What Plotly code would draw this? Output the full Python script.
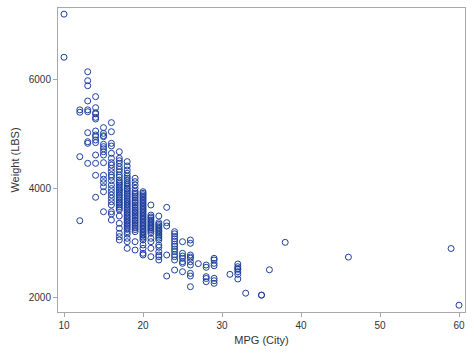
import plotly.graph_objects as go

# Weights (LBS) of vehicles grouped by City MPG
w10 = [7190, 6400]
w12 = [5435, 5390, 4575, 3400]
w13 = [6133, 5969, 5877, 5597, 5435, 5400, 5015, 4850, 4820, 4453]
w14 = [5677, 5474, 5382, 5360, 5297, 5266, 5046, 4973, 4942, 4881, 4833, 4606, 4453, 4233, 3830]
w15 = [5108, 5003, 4960, 4942, 4802, 4759, 4720, 4666, 4606, 4465, 4233, 4160, 4098, 4024, 3932, 3565]
w16 = [5200, 5033, 4820, 4771, 4637, 4545, 4465, 4422, 4361, 4300, 4239, 4197, 4135,
       4055, 3990, 3932, 3872, 3811, 3749, 3688, 3565, 3523, 3413]
w17 = [4666, 4545, 4501, 4453, 4392, 4343, 4300, 4239, 4197, 4147, 4115, 4086, 4055, 4024,
       3990, 3963, 3935, 3903, 3871, 3841, 3810, 3780, 3748, 3719, 3690, 3657, 3625, 3596,
       3486, 3352, 3260, 3169, 3107, 3046]
w18 = [4484, 4404, 4330, 4270, 4217, 4180, 4142, 4101, 4068, 4035, 4000, 3977, 3948, 3915,
       3884, 3857, 3825, 3790, 3762, 3734, 3706, 3681, 3650, 3621, 3590, 3560, 3533, 3502,
       3474, 3446, 3417, 3389, 3360, 3330, 3300, 3270, 3241, 3199, 3155, 3077, 3015, 2893]
w19 = [4178, 4117, 4055, 3995, 3940, 3907, 3880, 3845, 3816, 3779, 3750, 3722, 3690, 3660,
       3627, 3595, 3567, 3540, 3511, 3482, 3450, 3419, 3390, 3362, 3331, 3300, 3270, 3238,
       3199, 3015, 2862]
w20 = [3932, 3903, 3877, 3850, 3821, 3793, 3766, 3739, 3712, 3685, 3656, 3630, 3604, 3577,
       3551, 3525, 3498, 3471, 3446, 3420, 3393, 3366, 3340, 3314, 3288, 3261, 3235, 3208,
       3182, 3155, 3130, 3100, 3075, 3046, 2954, 2893, 2802, 2771]
w21 = [3688, 3504, 3470, 3446, 3415, 3390, 3362, 3336, 3310, 3285, 3260, 3233, 3205, 3169,
       3077, 3015, 2893, 2740]
w22 = [3486, 3364, 3335, 3307, 3280, 3252, 3226, 3197, 3170, 3140, 3113, 3080, 3046, 2954,
       2912, 2831, 2771, 2740, 2679]
w23 = [3645, 3364, 3303, 2771, 2385]
w24 = [3199, 3160, 3112, 3068, 3023, 2970, 2931, 2880, 2833, 2778, 2740, 2679, 2495]
w25 = [3015, 2802, 2752, 2710, 2648, 2618, 2464]
w26 = [3046, 2985, 2771, 2734, 2710, 2648, 2587, 2434, 2385, 2189]
w27 = [2612]
w28 = [2587, 2545, 2373, 2340, 2281]
w29 = [2710, 2679, 2618, 2574, 2343, 2299, 2251]
w31 = [2416]
w32 = [2606, 2556, 2524, 2508, 2464, 2416, 2330]
w33 = [2070]
w35 = [2035, 2035]
w36 = [2500]
w38 = [3003]
w46 = [2732]
w59 = [2890]
w60 = [1850]

mpg_values = [10, 12, 13, 14, 15, 16, 17, 18, 19, 20, 21, 22, 23, 24, 25, 26, 27, 28, 29,
              31, 32, 33, 35, 36, 38, 46, 59, 60]
weight_groups = [w10, w12, w13, w14, w15, w16, w17, w18, w19, w20, w21, w22, w23, w24, w25,
                 w26, w27, w28, w29, w31, w32, w33, w35, w36, w38, w46, w59, w60]

x_ticks = [10, 20, 30, 40, 50, 60]
y_ticks = [2000, 4000, 6000]

xs, ys = [], []
for m, grp in zip(mpg_values, weight_groups):
    for w in grp:
        xs.append(m)
        ys.append(w)

marker_color = "#1E3F9E"
axis_color = "#A8A8A8"
font_family = "Liberation Sans, Arial, sans-serif"

fig = go.Figure(go.Scatter(
    x=xs, y=ys, mode="markers",
    marker=dict(symbol="circle-open", size=6, color=marker_color,
                line=dict(width=1, color=marker_color)),
    showlegend=False,
))

fig.update_layout(
    width=474, height=355,
    margin=dict(l=58, r=9, t=8, b=43),
    paper_bgcolor="white", plot_bgcolor="white",
    font=dict(family=font_family, color="#333333", size=10),
)
fig.update_xaxes(
    range=[9.24, 60.76], tickvals=x_ticks, ticktext=[str(v) for v in x_ticks],
    showgrid=False, zeroline=False, showline=True, linecolor=axis_color, linewidth=1,
    mirror=True, ticks="outside", ticklen=4, tickcolor=axis_color,
    tickfont=dict(size=10, color="#333333"),
    title=dict(text="MPG (City)", font=dict(size=11, color="#333333"), standoff=6),
)
fig.update_yaxes(
    range=[1725, 7303], tickvals=y_ticks, ticktext=[str(v) for v in y_ticks],
    showgrid=False, zeroline=False, showline=True, linecolor=axis_color, linewidth=1,
    mirror=True, ticks="outside", ticklen=4, tickcolor=axis_color,
    tickfont=dict(size=10, color="#333333"),
    title=dict(text="Weight (LBS)", font=dict(size=11, color="#333333"), standoff=6),
)

fig.write_html("out.html", config={"displayModeBar": False},
               post_script="document.body.style.margin='0px';")
